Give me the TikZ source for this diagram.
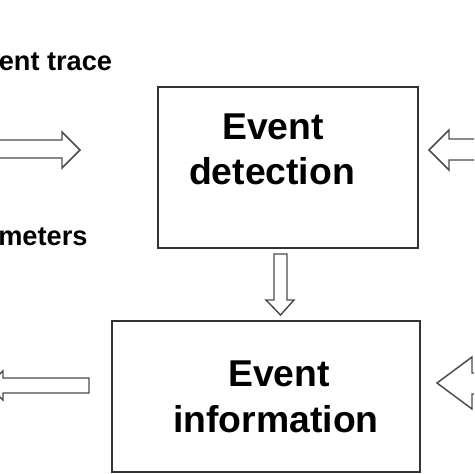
\documentclass[tikz,border=0pt]{standalone}
\usepackage{fontspec}
\setmainfont{Liberation Sans}
\begin{document}
\begin{tikzpicture}[x=0.75pt,y=-0.75pt,
  box/.style={draw=black!80,line width=1.5pt,fill=white,inner sep=0pt,minimum width=#1},
  bigtxt/.style={font=\fontsize{28}{33}\selectfont\bfseries,inner sep=0pt,anchor=base},
  sidetxt/.style={font=\fontsize{20.4}{24}\selectfont\bfseries,inner sep=0pt,anchor=base west},
  barrow/.style={draw=black!70,line width=1.1pt,fill=white,line join=miter}]
\useasboundingbox (0,0) rectangle (474,474);
\clip (0,0) rectangle (474,474);
% boxes
\node[box=260*0.75pt,minimum height=161*0.75pt] (det) at (288,167.5) {};
\node[box=308*0.75pt,minimum height=151*0.75pt] (inf) at (266,396.5) {};
\node[bigtxt] (d1) at (273,139) {Event};
\node[bigtxt] (d2) at (272,184) {detection};
\node[bigtxt] (i1) at (279,386) {Event};
\node[bigtxt] (i2) at (276,432) {information};
% side texts
\node[sidetxt] (trace) at (-1.5,71) {ent trace};
\node[sidetxt] (meters) at (-2,245) {meters};
% down arrow between boxes
\coordinate (dtop) at (280.5,254);
\draw[barrow] (274,254) -- (287,254) -- (287,300) -- (294,300) -- (280.5,315) -- (266,300) -- (274,300) -- cycle;
% top-left arrow (pointing right)
\coordinate (tlTip) at (80,150);
\draw[barrow] (-5,140) -- (62,140) -- (62,132) -- (tlTip) -- (62,168) -- (62,158) -- (-5,158) -- cycle;
% top-right arrow (pointing left)
\coordinate (trTip) at (429,150);
\draw[barrow] (480,139) -- (449,139) -- (449,130) -- (trTip) -- (449,170) -- (449,160) -- (480,160) -- cycle;
% bottom-right arrow (pointing left)
\coordinate (brTip) at (437,383);
\draw[barrow] (480,373) -- (472,373) -- (472,357) -- (brTip) -- (472,409) -- (472,394) -- (480,394) -- cycle;
% bottom-left arrow (pointing left)
\coordinate (blEnd) at (89,385.5);
\draw[barrow] (89,378) -- (3,378) -- (3,371) -- (-12,385.5) -- (3,400) -- (3,393) -- (89,393) -- cycle;
\end{tikzpicture}
\end{document}
